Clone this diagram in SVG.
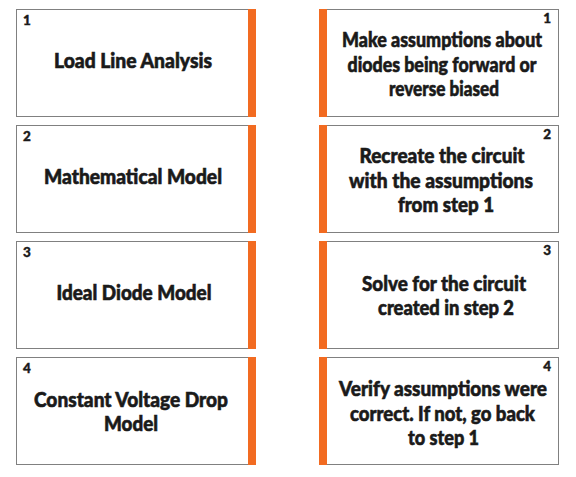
<svg xmlns="http://www.w3.org/2000/svg" width="576" height="477" viewBox="0 0 576 477">
<style>
.box{fill:#fff;stroke:#808080;stroke-width:1}
.bar{fill:#F26B21}
.t{font-family:Lato,"Open Sans","Liberation Sans",sans-serif;font-weight:900;font-size:20.5px;fill:#1a1a1a;stroke:#1a1a1a;stroke-width:0.6px;text-anchor:middle}
.n{font-family:Lato,"Open Sans","Liberation Sans",sans-serif;font-weight:900;font-size:13.5px;fill:#1a1a1a;stroke:#1a1a1a;stroke-width:0.4px}
.nr{text-anchor:end}
</style>
<rect width="576" height="477" fill="#fff"/>
<g id="left-1">
<rect class="box" x="16.5" y="9.5" width="239" height="107"/>
<rect class="bar" x="248" y="9" width="8" height="108"/>
<text class="n" x="23" y="25">1</text>
<text class="t" x="133" y="68" textLength="158" lengthAdjust="spacingAndGlyphs">Load Line Analysis</text>
</g>
<g id="left-2">
<rect class="box" x="16.5" y="125.5" width="239" height="107"/>
<rect class="bar" x="248" y="125" width="8" height="108"/>
<text class="n" x="23" y="141">2</text>
<text class="t" x="133" y="184" textLength="178" lengthAdjust="spacingAndGlyphs">Mathematical Model</text>
</g>
<g id="left-3">
<rect class="box" x="16.5" y="241.5" width="239" height="107"/>
<rect class="bar" x="248" y="241" width="8" height="108"/>
<text class="n" x="23" y="257">3</text>
<text class="t" x="134" y="300" textLength="155" lengthAdjust="spacingAndGlyphs">Ideal Diode Model</text>
</g>
<g id="left-4">
<rect class="box" x="16.5" y="357.5" width="239" height="107"/>
<rect class="bar" x="248" y="357" width="8" height="108"/>
<text class="n" x="23" y="373">4</text>
<text class="t" x="131" y="407" textLength="194" lengthAdjust="spacingAndGlyphs">Constant Voltage Drop</text>
<text class="t" x="131" y="431" textLength="54" lengthAdjust="spacingAndGlyphs">Model</text>
</g>
<g id="right-1">
<rect class="box" x="319.5" y="9.5" width="239" height="107"/>
<rect class="bar" x="319" y="9" width="8" height="108"/>
<text class="n nr" x="551" y="23">1</text>
<text class="t" x="442" y="47" textLength="200" lengthAdjust="spacingAndGlyphs">Make assumptions about</text>
<text class="t" x="442" y="71.5" textLength="189" lengthAdjust="spacingAndGlyphs">diodes being forward or</text>
<text class="t" x="444" y="96" textLength="110" lengthAdjust="spacingAndGlyphs">reverse biased</text>
</g>
<g id="right-2">
<rect class="box" x="319.5" y="125.5" width="239" height="107"/>
<rect class="bar" x="319" y="125" width="8" height="108"/>
<text class="n nr" x="551" y="139">2</text>
<text class="t" x="442" y="163" textLength="165" lengthAdjust="spacingAndGlyphs">Recreate the circuit</text>
<text class="t" x="441" y="187.5" textLength="184" lengthAdjust="spacingAndGlyphs">with the assumptions</text>
<text class="t" x="446" y="212" textLength="96" lengthAdjust="spacingAndGlyphs">from step 1</text>
</g>
<g id="right-3">
<rect class="box" x="319.5" y="241.5" width="239" height="107"/>
<rect class="bar" x="319" y="241" width="8" height="108"/>
<text class="n nr" x="551" y="255">3</text>
<text class="t" x="444" y="291" textLength="164" lengthAdjust="spacingAndGlyphs">Solve for the circuit</text>
<text class="t" x="446" y="315" textLength="136" lengthAdjust="spacingAndGlyphs">created in step 2</text>
</g>
<g id="right-4">
<rect class="box" x="319.5" y="357.5" width="239" height="107"/>
<rect class="bar" x="319" y="357" width="8" height="108"/>
<text class="n nr" x="551" y="371">4</text>
<text class="t" x="443" y="396" textLength="208" lengthAdjust="spacingAndGlyphs">Verify assumptions were</text>
<text class="t" x="442.5" y="420.5" textLength="185" lengthAdjust="spacingAndGlyphs">correct. If not, go back</text>
<text class="t" x="443.5" y="445" textLength="71" lengthAdjust="spacingAndGlyphs">to step 1</text>
</g>
<g id="connectors"></g>
</svg>
